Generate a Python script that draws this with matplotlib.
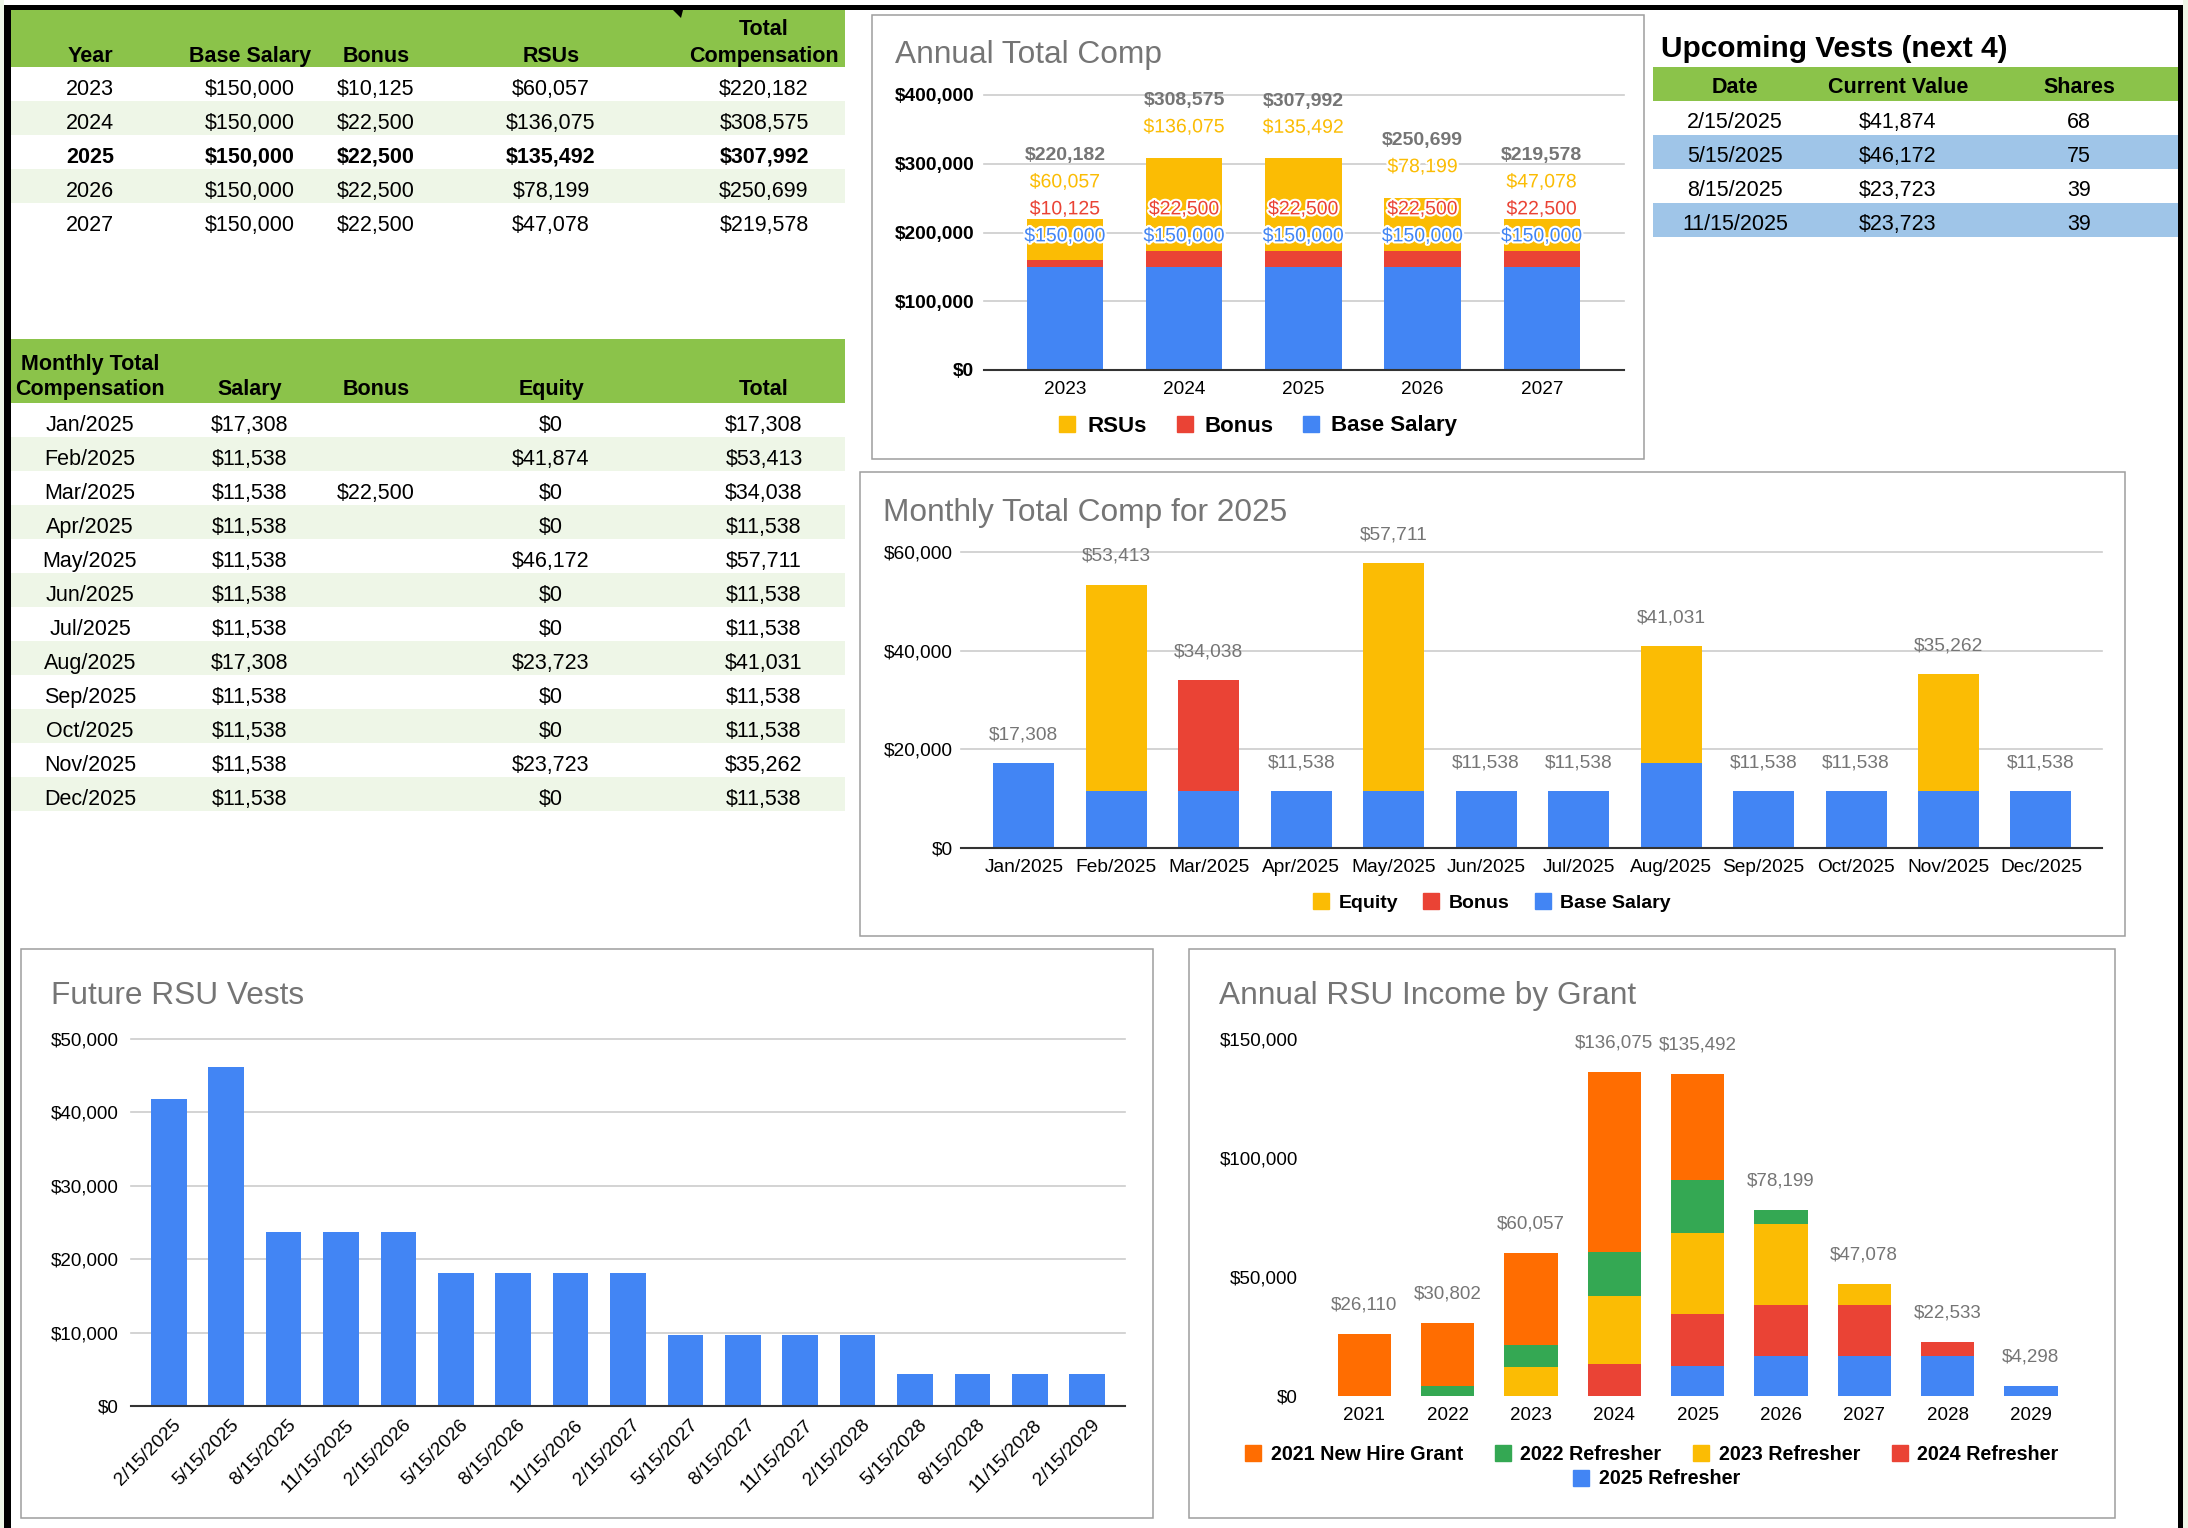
import numpy as np
import matplotlib
matplotlib.use('Agg')
import matplotlib.pyplot as plt
from matplotlib.patches import Rectangle, Polygon
from matplotlib.lines import Line2D
import matplotlib.patheffects as pe
from matplotlib.transforms import ScaledTranslation

plt.rcParams['font.family'] = ['Liberation Sans', 'DejaVu Sans']

W, H, DPI = 2188, 1528, 100

# ---------------- data ----------------
years = ['2023', '2024', '2025', '2026', '2027']
base_salary = [150000, 150000, 150000, 150000, 150000]
bonus = [10125, 22500, 22500, 22500, 22500]
rsus = [60057, 136075, 135492, 78199, 47078]
total_comp = [220182, 308575, 307992, 250699, 219578]

months = ['Jan/2025', 'Feb/2025', 'Mar/2025', 'Apr/2025', 'May/2025', 'Jun/2025',
          'Jul/2025', 'Aug/2025', 'Sep/2025', 'Oct/2025', 'Nov/2025', 'Dec/2025']
m_salary = [17308, 11538, 11538, 11538, 11538, 11538, 11538, 17308, 11538, 11538, 11538, 11538]
m_bonus = [0, 0, 22500, 0, 0, 0, 0, 0, 0, 0, 0, 0]
m_equity = [0, 41874, 0, 0, 46172, 0, 0, 23723, 0, 0, 23723, 0]
m_total = [17308, 53413, 34038, 11538, 57711, 11538, 11538, 41031, 11538, 11538, 35262, 11538]

upcoming_dates = ['2/15/2025', '5/15/2025', '8/15/2025', '11/15/2025']
upcoming_values = [41874, 46172, 23723, 23723]
upcoming_shares = [68, 75, 39, 39]

vest_dates = ['2/15/2025', '5/15/2025', '8/15/2025', '11/15/2025', '2/15/2026', '5/15/2026',
              '8/15/2026', '11/15/2026', '2/15/2027', '5/15/2027', '8/15/2027', '11/15/2027',
              '2/15/2028', '5/15/2028', '8/15/2028', '11/15/2028', '2/15/2029']
vest_values = [41874, 46172, 23723, 23723, 23723, 18159, 18159, 18159, 18159,
               9640, 9640, 9640, 9640, 4298, 4298, 4298, 4298]

grant_years = ['2021', '2022', '2023', '2024', '2025', '2026', '2027', '2028', '2029']
grant_names = ['2021 New Hire Grant', '2022 Refresher', '2023 Refresher', '2024 Refresher', '2025 Refresher']
grant_2021 = [26110, 26602, 38627, 75755, 44932, 0, 0, 0, 0]
grant_2022 = [0, 4200, 9130, 18110, 22000, 5749, 0, 0, 0]
grant_2023 = [0, 0, 12300, 28740, 34280, 34280, 8908, 0, 0]
grant_2024 = [0, 0, 0, 13470, 21560, 21400, 21400, 5763, 0]
grant_2025 = [0, 0, 0, 0, 12720, 16770, 16770, 16770, 4298]
grant_totals = [26110, 30802, 60057, 136075, 135492, 78199, 47078, 22533, 4298]

# ---------------- styles ----------------
BLUE = '#4285F4'; RED = '#EA4335'; YELLOW = '#FBBC04'; GREEN = '#34A853'; ORANGE = '#FF6D01'
TITLE_GRAY = '#757575'; LABEL_GRAY = '#757575'
HDR_GREEN = '#8BC34A'; ROW_GREEN = '#EEF6E7'; ROW_BLUE = '#9FC5E8'
BOX_EDGE = '#9E9E9E'; GRID = '#CCCCCC'

fig = plt.figure(figsize=(W / DPI, H / DPI), dpi=DPI)
bg = fig.add_axes([0, 0, 1, 1], zorder=0)
bg.set_xlim(0, W); bg.set_ylim(H, 0); bg.axis('off')


def money(v):
    return f'${v:,.0f}'


def rect(x0, y0, x1, y1, **kw):
    bg.add_patch(Rectangle((x0, y0), x1 - x0, y1 - y0, **kw))


TFS = 15.5
# ---------------- frame ----------------
rect(0, 0, 4, H, fc=ROW_GREEN, ec='none')
rect(2183, 0, W, H, fc=ROW_GREEN, ec='none')
rect(4, 5, 2183, 10, fc='black', ec='none', zorder=5)
rect(4, 5, 11, H, fc='black', ec='none', zorder=5)
rect(2178, 5, 2183, H, fc='black', ec='none', zorder=5)

# ---------------- table 1: annual ----------------
cols = [90, 250, 376, 551, 764]
rect(10, 10, 845, 67, fc=HDR_GREEN, ec='none')
bg.add_patch(Polygon([(673, 10), (683, 10), (681, 18)], closed=True, fc='black', ec='none', zorder=4))
for cx, lab in zip(cols[:4], ['Year', 'Base Salary', 'Bonus', 'RSUs']):
    bg.text(cx, 62, lab, ha='center', va='baseline', fontsize=TFS, fontweight='bold')
bg.text(cols[4], 35, 'Total', ha='center', va='baseline', fontsize=TFS, fontweight='bold')
bg.text(cols[4], 62, 'Compensation', ha='center', va='baseline', fontsize=TFS, fontweight='bold')
for i, yr in enumerate(years):
    top = 67 + 34 * i
    if i % 2 == 1:
        rect(10, top, 845, top + 34, fc=ROW_GREEN, ec='none')
    vals = [yr, money(base_salary[i]), money(bonus[i]), money(rsus[i]), money(total_comp[i])]
    fw = 'bold' if yr == '2025' else 'normal'
    for cx, s in zip(cols, vals):
        bg.text(cx, top + 28, s, ha='center', va='baseline', fontsize=TFS, fontweight=fw)

# ---------------- table 2: monthly ----------------
rect(10, 339, 845, 403, fc=HDR_GREEN, ec='none')
bg.text(cols[0], 370, 'Monthly Total', ha='center', va='baseline', fontsize=TFS, fontweight='bold')
bg.text(cols[0], 395, 'Compensation', ha='center', va='baseline', fontsize=TFS, fontweight='bold')
for cx, lab in zip(cols[1:], ['Salary', 'Bonus', 'Equity', 'Total']):
    bg.text(cx, 395, lab, ha='center', va='baseline', fontsize=TFS, fontweight='bold')
for i, mo in enumerate(months):
    top = 403 + 34 * i
    if i % 2 == 1:
        rect(10, top, 845, top + 34, fc=ROW_GREEN, ec='none')
    vals = [mo, money(m_salary[i]), money(m_bonus[i]) if m_bonus[i] else '',
            money(m_equity[i]), money(m_total[i])]
    for cx, s in zip(cols, vals):
        bg.text(cx, top + 28, s, ha='center', va='baseline', fontsize=TFS)

# ---------------- table 3: upcoming vests ----------------
ucols = [1735, 1898, 2079]
bg.text(1661, 57, 'Upcoming Vests (next 4)', ha='left', va='baseline', fontsize=21.5, fontweight='bold')
rect(1653, 67, 2178, 101, fc=HDR_GREEN, ec='none')
for cx, lab in zip(ucols, ['Date', 'Current Value', 'Shares']):
    bg.text(cx, 93, lab, ha='center', va='baseline', fontsize=TFS, fontweight='bold')
for i, d in enumerate(upcoming_dates):
    top = 101 + 34 * i
    if i % 2 == 1:
        rect(1653, top, 2178, top + 34, fc=ROW_BLUE, ec='none')
    for cx, s in zip(ucols, [d, money(upcoming_values[i]), str(upcoming_shares[i])]):
        bg.text(cx, top + 27, s, ha='center', va='baseline', fontsize=TFS)

# ---------------- chart boxes & titles ----------------
boxes = [(872, 15, 1644, 459), (860, 472, 2125, 936), (21, 949, 1153, 1518), (1189, 949, 2115, 1518)]
for (x0, y0, x1, y1) in boxes:
    rect(x0, y0, x1, y1, fc='white', ec=BOX_EDGE, lw=1.1)
TTL = 22.8
bg.text(895, 63, 'Annual Total Comp', fontsize=TTL, color=TITLE_GRAY, va='baseline')
bg.text(883, 521, 'Monthly Total Comp for 2025', fontsize=TTL, color=TITLE_GRAY, va='baseline')
bg.text(51, 1004, 'Future RSU Vests', fontsize=TTL, color=TITLE_GRAY, va='baseline')
bg.text(1219, 1004, 'Annual RSU Income by Grant', fontsize=TTL, color=TITLE_GRAY, va='baseline')


def add_ax(x0, y0, x1, y1):
    ax = fig.add_axes([x0 / W, 1 - y1 / H, (x1 - x0) / W, (y1 - y0) / H], zorder=2)
    ax.set_facecolor('none')
    for s in ax.spines.values():
        s.set_visible(False)
    ax.tick_params(length=0)
    return ax


def grid(ax, ticks, base=True):
    for t in ticks:
        ax.axhline(t, color=GRID, lw=1.2, zorder=1, clip_on=False)
    if base:
        ax.axhline(0, color='#333333', lw=1.5, zorder=5, clip_on=False)


def px2data(ax, px):
    h = ax.get_position().height * H
    lo, hi = ax.get_ylim()
    return px * (hi - lo) / h


def legend(handles_spec, center, size, ncol=None, colsp=1.3):
    hs = [Line2D([], [], marker='s', ls='', markersize=12, color=c) for _, c in handles_spec]
    lb = [n for n, _ in handles_spec]
    return fig.legend(hs, lb, loc='center', bbox_to_anchor=(center[0] / W, 1 - center[1] / H),
                      ncol=ncol or len(hs), frameon=False, prop={'weight': 'bold', 'size': size},
                      handlelength=0.8, handletextpad=0.5, columnspacing=colsp, borderaxespad=0)


halo = [pe.withStroke(linewidth=3, foreground='white')]

# ---------------- chart 1: annual total comp ----------------
ax1 = add_ax(984, 95, 1624, 370)
x1 = np.arange(len(years))
b = np.array(base_salary); bo = np.array(bonus); r = np.array(rsus)
ax1.bar(x1, b, 0.64, color=BLUE, zorder=3)
ax1.bar(x1, bo, 0.64, bottom=b, color=RED, zorder=3)
ax1.bar(x1, r, 0.64, bottom=b + bo, color=YELLOW, zorder=3)
ax1.set_xlim(-0.68, 4.69); ax1.set_ylim(0, 400000)
t1 = [0, 100000, 200000, 300000, 400000]
ax1.set_yticks(t1, [money(t) for t in t1], fontweight='bold', fontsize=13.8)
ax1.set_xticks(x1, years, fontsize=13.7)
ax1.tick_params(axis='y', pad=7); ax1.tick_params(axis='x', pad=8)
grid(ax1, t1)
gap = px2data(ax1, 30); step = px2data(ax1, 27)
for i in range(len(years)):
    prev = -1e12
    segs = [(b[i], b[i], BLUE), (b[i] + bo[i], bo[i], RED), (b[i] + bo[i] + r[i], r[i], YELLOW)]
    for top, val, col in segs:
        y = max(top + gap, prev + step)
        ax1.text(i, y, money(val), ha='center', va='center', color=col, fontsize=14,
                 path_effects=halo, zorder=6)
        prev = y
    y = max(total_comp[i] + gap, prev + step)
    ax1.text(i, y, money(total_comp[i]), ha='center', va='center', color=LABEL_GRAY,
             fontsize=14, fontweight='bold', zorder=6)
legend([('RSUs', YELLOW), ('Bonus', RED), ('Base Salary', BLUE)], (1258, 426), 16)

# ---------------- chart 2: monthly ----------------
ax2 = add_ax(961, 552, 2102, 848)
x2 = np.arange(len(months))
ms = np.array(m_salary); mb = np.array(m_bonus); me = np.array(m_equity)
ax2.bar(x2, ms, 0.66, color=BLUE, zorder=3)
ax2.bar(x2, mb, 0.66, bottom=ms, color=RED, zorder=3)
ax2.bar(x2, me, 0.66, bottom=ms + mb, color=YELLOW, zorder=3)
ax2.set_xlim(-0.68, 11.66); ax2.set_ylim(0, 60000)
t2 = [0, 20000, 40000, 60000]
ax2.set_yticks(t2, [money(t) for t in t2], fontsize=13.8)
ax2.set_xticks(x2, months, fontsize=13.8)
ax2.tick_params(axis='y', pad=6); ax2.tick_params(axis='x', pad=8)
grid(ax2, t2)
g2 = px2data(ax2, 28)
for i, tot in enumerate(m_total):
    ax2.text(i, tot + g2, money(tot), ha='center', va='center', color=LABEL_GRAY, fontsize=13.8, zorder=6)
legend([('Equity', YELLOW), ('Bonus', RED), ('Base Salary', BLUE)], (1492, 903), 14)

# ---------------- chart 3: future vests ----------------
ax3 = add_ax(131, 1039, 1125, 1406)
x3 = np.arange(len(vest_dates))
ax3.bar(x3, vest_values, 0.62, color=BLUE, zorder=3)
ax3.set_xlim(-0.66, 16.66); ax3.set_ylim(0, 50000)
t3 = [0, 10000, 20000, 30000, 40000, 50000]
ax3.set_yticks(t3, [money(t) for t in t3], fontsize=13.5)
ax3.set_xticks(x3, vest_dates, fontsize=13.8, rotation=45, ha='right', va='center', rotation_mode='anchor')
ax3.tick_params(axis='y', pad=9); ax3.tick_params(axis='x', pad=12)
for lab in ax3.get_xticklabels():
    lab.set_transform(lab.get_transform() + ScaledTranslation(7 / 72, 0, fig.dpi_scale_trans))
grid(ax3, t3)

# ---------------- chart 4: RSU income by grant ----------------
ax4 = add_ax(1305, 1039, 2085, 1396)
x4 = np.arange(len(grant_years))
series = [grant_2021, grant_2022, grant_2023, grant_2024, grant_2025]
gcolors = [ORANGE, GREEN, YELLOW, RED, BLUE]
bottom = np.zeros(len(grant_years))
# newest grant at the bottom, 2021 grant on top
for vals, col in zip(series[::-1], gcolors[::-1]):
    ax4.bar(x4, vals, 0.64, bottom=bottom, color=col, zorder=3)
    bottom = bottom + np.array(vals)
ax4.set_xlim(-0.71, 8.65); ax4.set_ylim(0, 150000)
t4 = [0, 50000, 100000, 150000]
ax4.set_yticks(t4, [money(t) for t in t4], fontsize=13.5)
ax4.set_xticks(x4, grant_years, fontsize=13.5)
ax4.tick_params(axis='y', pad=5); ax4.tick_params(axis='x', pad=8)
g4 = px2data(ax4, 29)
for i, tot in enumerate(grant_totals):
    ax4.text(i, tot + g4, money(tot), ha='center', va='center', color=LABEL_GRAY, fontsize=13.5, zorder=6)
legend(list(zip(grant_names[:4], gcolors[:4])), (1652, 1454), 14.2, colsp=1.6)
legend([(grant_names[4], gcolors[4])], (1657, 1479), 14.2)

fig.savefig('out.png', dpi=DPI)
